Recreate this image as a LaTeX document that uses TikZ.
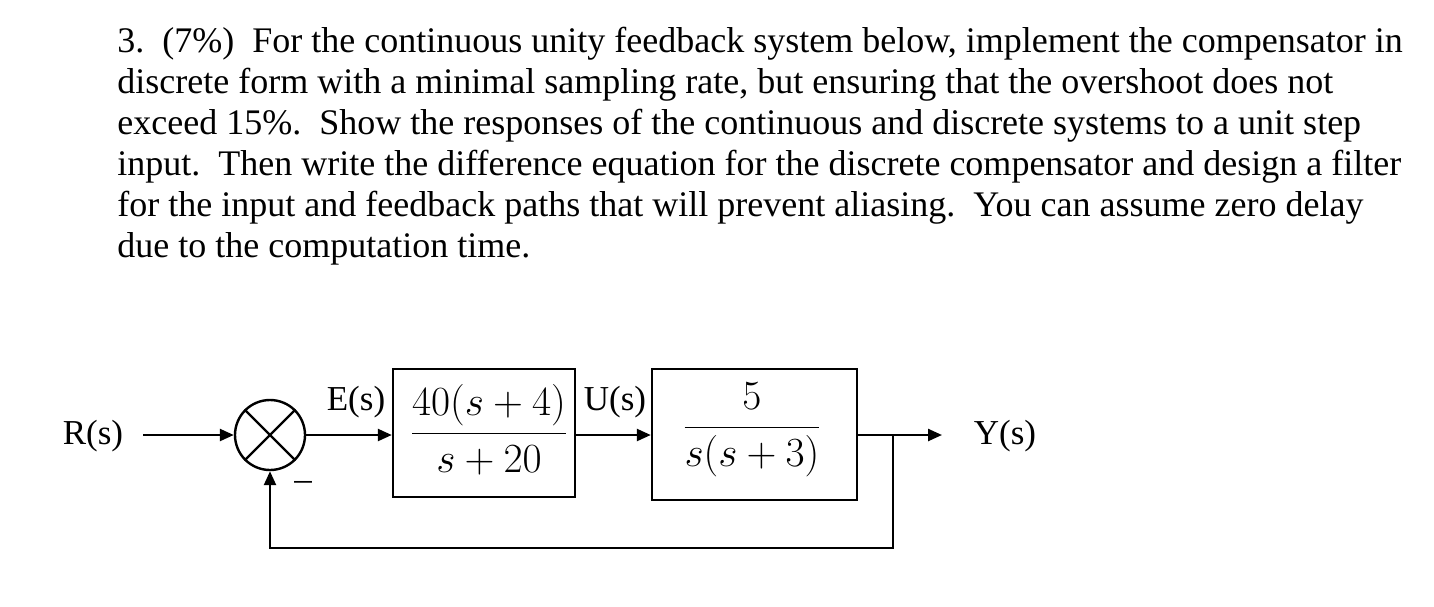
\documentclass[tikz,border=0pt]{standalone}
\usepackage{fontspec}
\setmainfont{Liberation Serif}
\usetikzlibrary{arrows.meta}
\begin{document}
\begin{tikzpicture}[x=0.5pt,y=-0.5pt,
  ln/.style={line width=1.2pt},
  arr/.style={ln,-{Triangle[length=7pt,width=6pt]}},
  tl/.style={anchor=base west,inner sep=0pt,font=\fontsize{18}{22}\selectfont},
  lab/.style={font=\fontsize{17.5}{20}\selectfont,inner sep=0pt},
  fr/.style={font=\fontsize{22.5}{26}\selectfont,inner sep=0pt}]
\useasboundingbox (0,0) rectangle (1434,606);
\node[tl] (l1) at (117,52) {3.\ \ (7\%)\ \ For the continuous unity feedback system below, implement the compensator in};
\node[tl] (l2) at (117,93) {discrete form with a minimal sampling rate, but ensuring that the overshoot does not};
\node[tl] (l3) at (117,134) {exceed 15\%.\ \ Show the responses of the continuous and discrete systems to a unit step};
\node[tl] (l4) at (117,175) {input.\ \ Then write the difference equation for the discrete compensator and design a filter};
\node[tl] (l5) at (117,216) {for the input and feedback paths that will prevent aliasing.\ \ You can assume zero delay};
\node[tl] (l6) at (117,257) {due to the computation time.};
% diagram
\node[lab] (R) at (93,436) {R(s)};
\node[ln,draw,circle,minimum size=35pt,inner sep=0pt] (S) at (270,435) {};
\draw[ln] (S.north west)--(S.south east) (S.north east)--(S.south west);
\node[ln,draw,minimum width=91pt,minimum height=64pt,inner sep=0pt] (G1) at (484,433) {};
\node[fr] at (489,430) {$\displaystyle\frac{40(s+4)}{s+20}$};
\node[ln,draw,minimum width=102.5pt,minimum height=65.5pt,inner sep=0pt] (G2) at (754.5,434.5) {};
\node[fr] at (752,430) {$\displaystyle\frac{5}{s(s+3)}$};
\node[lab] (E) at (356,402) {E(s)};
\node[lab] (U) at (615,402) {U(s)};
\node[lab] (Y) at (1005,436) {Y(s)};
\node[lab] (m) at (303,486) {--};
\coordinate (Rs) at (143,435);
\coordinate (Yend) at (942,435);
\coordinate (br) at (893,435);
\coordinate (bd) at (893,548);
\coordinate (bl) at (270,548);
\draw[arr] (Rs) -- (S.west);
\draw[arr] (S.east) -- (S.east -| G1.west);
\draw[arr] (S.east -| G1.east) -- (S.east -| G2.west);
\draw[arr] (S.east -| G2.east) -- (Yend);
\draw[arr] (br) -- (bd) -- (bl) -- (S.south);
\end{tikzpicture}
\end{document}
